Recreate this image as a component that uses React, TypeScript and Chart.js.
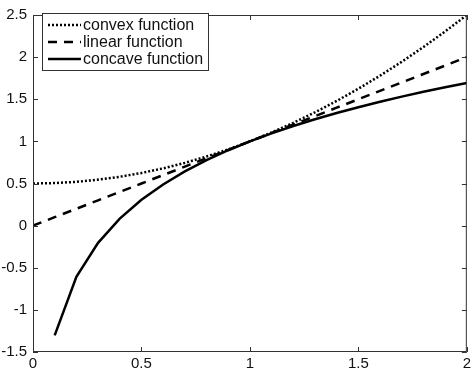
import React, { useEffect, useRef } from "react";
import { Chart, registerables } from "chart.js";

Chart.register(...registerables);

const xValues = [0, 0.1, 0.2, 0.3, 0.4, 0.5, 0.6, 0.7, 0.8, 0.9, 1, 1.1, 1.2, 1.3, 1.4, 1.5, 1.6, 1.7, 1.8, 1.9, 2];
const convexValues = [0.5, 0.505, 0.52, 0.545, 0.58, 0.625, 0.68, 0.745, 0.82, 0.905, 1, 1.105, 1.22, 1.345, 1.48, 1.625, 1.78, 1.945, 2.12, 2.305, 2.5];
const linearValues = [0, 0.1, 0.2, 0.3, 0.4, 0.5, 0.6, 0.7, 0.8, 0.9, 1, 1.1, 1.2, 1.3, 1.4, 1.5, 1.6, 1.7, 1.8, 1.9, 2];
const concaveValues: (number | null)[] = [null, -1.303, -0.609, -0.204, 0.084, 0.307, 0.489, 0.643, 0.777, 0.895, 1, 1.095, 1.182, 1.262, 1.336, 1.405, 1.47, 1.531, 1.588, 1.642, 1.693];
const seriesLabels = ["convex function", "linear function", "concave function"];
const xTicks = [0, 0.5, 1, 1.5, 2];
const yTicks = [-1.5, -1, -0.5, 0, 0.5, 1, 1.5, 2, 2.5];

const FONT = '"Liberation Sans", Arial, Helvetica, sans-serif';
const INK = "#111";
const dashes = [[2, 2], [9, 7], []];

const toPoints = (ys: (number | null)[]) => xValues.map((x, i) => ({ x, y: ys[i] }));

const framePlugin = {
  id: "frame",
  afterDraw(chart: any) {
    const { ctx, chartArea: a, scales } = chart;
    ctx.save();
    ctx.strokeStyle = "#333";
    ctx.lineWidth = 1;
    ctx.strokeRect(a.left + 0.5, a.top + 0.5, a.right - a.left - 1, a.bottom - a.top - 1);
    const tl = 5;
    ctx.beginPath();
    xTicks.forEach((v) => {
      const px = Math.round(scales.x.getPixelForValue(v)) + 0.5;
      ctx.moveTo(px, a.bottom);
      ctx.lineTo(px, a.bottom - tl);
      ctx.moveTo(px, a.top);
      ctx.lineTo(px, a.top + tl);
    });
    yTicks.forEach((v) => {
      const py = Math.round(scales.y.getPixelForValue(v)) + 0.5;
      ctx.moveTo(a.left, py);
      ctx.lineTo(a.left + tl, py);
      ctx.moveTo(a.right, py);
      ctx.lineTo(a.right - tl, py);
    });
    ctx.stroke();

    // legend
    const bx = 42.5, by = 13.5, bw = 166, bh = 57;
    ctx.fillStyle = "#fff";
    ctx.fillRect(bx, by, bw, bh);
    ctx.strokeStyle = "#333";
    ctx.strokeRect(bx, by, bw, bh);
    ctx.font = `16px ${FONT}`;
    ctx.textBaseline = "middle";
    ctx.textAlign = "left";
    seriesLabels.forEach((label, i) => {
      const y = 25 + i * 17;
      ctx.beginPath();
      ctx.setLineDash(dashes[i]);
      ctx.lineWidth = 2.5;
      ctx.strokeStyle = "#000";
      ctx.moveTo(48, y);
      ctx.lineTo(81, y);
      ctx.stroke();
      ctx.setLineDash([]);
      ctx.fillStyle = INK;
      ctx.fillText(label, 83, y + 1);
    });
    ctx.restore();
  },
};

export default function App() {
  const ref = useRef<HTMLCanvasElement>(null);
  useEffect(() => {
    if (!ref.current) return;
    const chart = new Chart(ref.current, {
      type: "line",
      data: {
        datasets: [convexValues, linearValues, concaveValues].map((ys, i) => ({
          label: seriesLabels[i],
          data: toPoints(ys),
          borderColor: "#000",
          borderWidth: 2.5,
          borderDash: dashes[i],
          pointRadius: 0,
          fill: false,
          tension: 0,
          spanGaps: false,
        })),
      },
      options: {
        animation: false,
        responsive: false,
        layout: { padding: { top: 8, right: 4, left: 0, bottom: 0 } },
        plugins: { legend: { display: false }, tooltip: { enabled: false } },
        scales: {
          x: {
            type: "linear",
            min: 0,
            max: 2,
            afterFit: (s: any) => { s.height = 19; },
            afterBuildTicks: (s: any) => { s.ticks = xTicks.map((v) => ({ value: v })); },
            grid: { display: false, drawTicks: false },
            border: { display: false },
            ticks: { padding: 3, color: INK, font: { family: FONT, size: 15 }, maxRotation: 0, callback: (v: any) => String(v) },
          },
          y: {
            type: "linear",
            min: -1.5,
            max: 2.5,
            afterFit: (s: any) => { s.width = 33; },
            afterBuildTicks: (s: any) => { s.ticks = yTicks.map((v) => ({ value: v })); },
            grid: { display: false, drawTicks: false },
            border: { display: false },
            ticks: { padding: 6, color: INK, font: { family: FONT, size: 15 }, callback: (v: any) => String(v) },
          },
        },
      },
      plugins: [framePlugin],
    });
    return () => chart.destroy();
  }, []);
  return (
    <div style={{ position: "absolute", left: 0, top: 0, width: 474, height: 371, background: "#fff" }}>
      <canvas ref={ref} width={474} height={371} />
    </div>
  );
}
